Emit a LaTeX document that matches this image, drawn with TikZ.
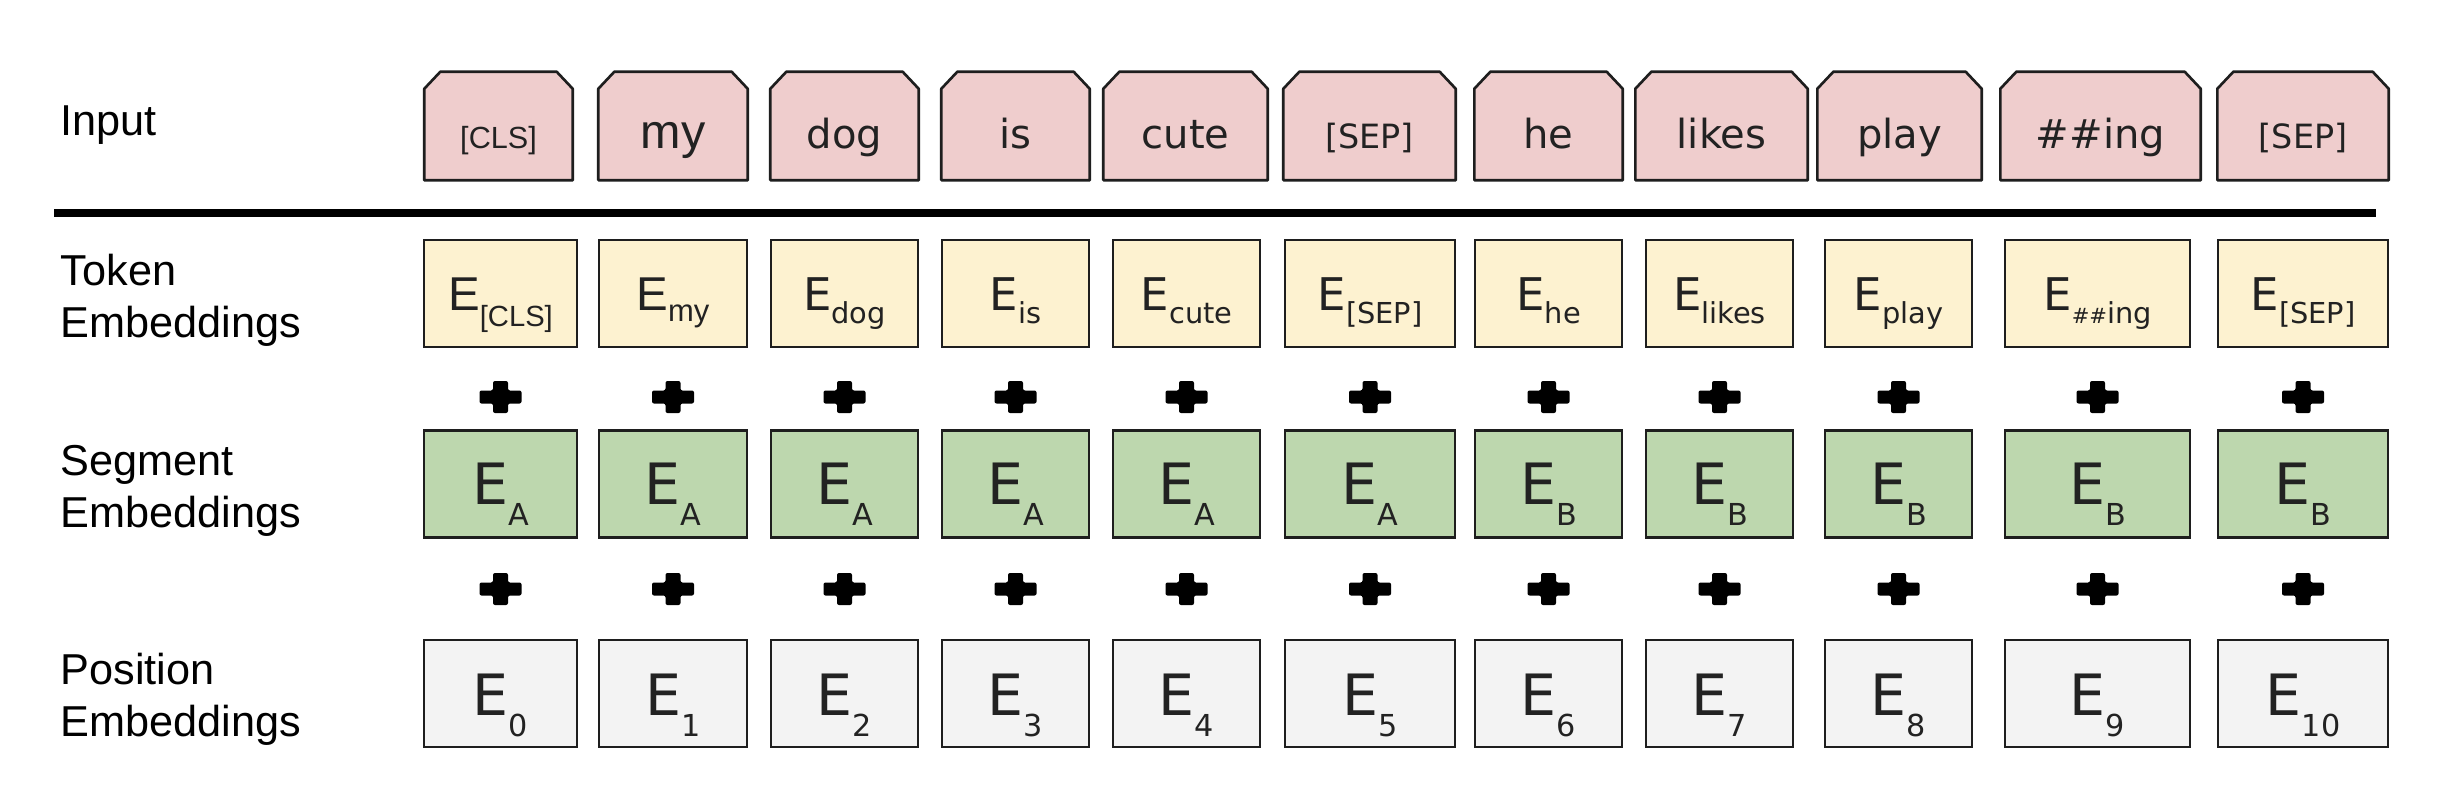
\documentclass[tikz,border=0pt]{standalone}
\usepackage{fontspec}
\setmainfont{Liberation Sans}
\newfontfamily\dvfont{DejaVu Sans}
\newfontfamily\arfont{Liberation Sans}
\usetikzlibrary{calc}
\definecolor{inpink}{RGB}{239,205,205}
\definecolor{tokyel}{RGB}{253,242,208}
\definecolor{seggrn}{RGB}{189,215,174}
\definecolor{posgry}{RGB}{243,243,243}
\definecolor{edgec}{RGB}{30,30,30}
\definecolor{ink}{RGB}{34,34,34}

\newcommand\Eb[5]{{#1\fontsize{#2}{#2}\selectfont E\raisebox{-#4}{\fontsize{#3}{#3}\selectfont #5}}}
\newcommand\tokD[1]{\Eb{\dvfont}{12.8}{8.2}{3.7pt}{#1}}
\newcommand\segE[1]{\Eb{\dvfont}{16.2}{8.6}{6.2pt}{#1}}
\newcommand\inD[1]{{\dvfont\fontsize{11.4}{12}\selectfont #1}}

\tikzset{
  cellbox/.style={rectangle, inner sep=0pt, minimum height=1.07cm},
  boxline/.style={draw=edgec, line width=0.75pt},
  inshape/.style={draw=edgec, fill=inpink, line width=0.75pt, line join=round},
  txt/.style={anchor=base, inner sep=0pt, text=ink},
  lab/.style={inner sep=0pt, align=left, text=black, font=\arfont\fontsize{12.3}{14.8}\selectfont},
  plussign/.pic={\fill[black, rounded corners=0.02cm] (-7.5,-16) -- (7.5,-16) -- (7.5,-6.5) -- (21,-6.5) -- (21,6.5) -- (7.5,6.5) -- (7.5,16) -- (-7.5,16) -- (-7.5,6.5) -- (-21,6.5) -- (-21,-6.5) -- (-7.5,-6.5) -- cycle;}
}

\newcommand\mkcol[8]{%
  \pgfmathsetmacro\colcx{(#2+#3)/2}%
  \pgfmathsetmacro\colwid{#3-#2}%
  \pgfmathsetmacro\incx{(#4+#5)/2}%
  \pgfmathsetmacro\inwid{#5-#4}%
  \node[cellbox, minimum width=\inwid*0.01cm] (in#1) at (\incx,126) {};
  \draw[inshape] (in#1.south west) -- ($(in#1.north west)+(0,17)$) -- ($(in#1.north west)+(16,0)$) -- ($(in#1.north east)+(-16,0)$) -- ($(in#1.north east)+(0,17)$) -- (in#1.south east) -- cycle;
  \node[txt] (inT#1) at (\incx,148) {#6};
  \node[cellbox, boxline, fill=tokyel, minimum width=\colwid*0.01cm] (tok#1) at (\colcx,293.5) {};
  \node[txt] (tokT#1) at (\colcx,310) {#7};
  \pic (plusA#1) at (\colcx,397) {plussign};
  \node[cellbox, boxline, fill=seggrn, minimum width=\colwid*0.01cm] (seg#1) at (\colcx,484) {};
  \node[txt] (segT#1) at (\colcx,504) {\segE{#8}};
  \pic (plusB#1) at (\colcx,589) {plussign};
  \node[cellbox, boxline, fill=posgry, minimum width=\colwid*0.01cm] (pos#1) at (\colcx,693.5) {};
  \node[txt] (posT#1) at (\colcx,715) {\segE{#1}};
}

\begin{document}
\begin{tikzpicture}[x=0.01cm, y=-0.01cm]
\fill[white] (0,0) rectangle (2446,806);
\useasboundingbox (0,0) rectangle (2446,806);

\node[lab, anchor=base west] (labIn) at (60,135) {Input};
\node[lab, anchor=north west] (labTok) at (60,253) {Token\\Embeddings};
\node[lab, anchor=north west] (labSeg) at (60,445) {Segment\\Embeddings};
\node[lab, anchor=north west] (labPos) at (60,652) {Position\\Embeddings};

\coordinate (ruleL) at (54,213);
\coordinate (ruleR) at (2376,213);
\draw[line width=0.08cm] (ruleL) -- (ruleR);

\mkcol{0}{424}{577}{425}{572}{{\arfont\fontsize{8.7}{10}\selectfont [CLS]}}{\Eb{\arfont}{13.5}{8.3}{4.6pt}{[CLS]}}{A}
\mkcol{1}{599}{747}{599}{747}{{\arfont\fontsize{13.8}{15}\selectfont my}}{\Eb{\arfont}{13.5}{8.8}{3.4pt}{my}}{A}
\mkcol{2}{771}{918}{771}{918}{\inD{dog}}{\tokD{dog}}{A}
\mkcol{3}{942}{1089}{942}{1089}{\inD{is}}{\tokD{is}}{A}
\mkcol{4}{1113}{1260}{1104}{1267}{\inD{cute}}{\tokD{cute}}{A}
\mkcol{5}{1285}{1455}{1284}{1455}{{\dvfont\fontsize{9.5}{10}\selectfont [SEP]}}{\tokD{[SEP]}}{A}
\mkcol{6}{1475}{1622}{1475}{1622}{\inD{he}}{\tokD{he}}{B}
\mkcol{7}{1646}{1793}{1636}{1807}{\inD{likes}}{\tokD{likes}}{B}
\mkcol{8}{1825}{1972}{1818}{1981}{\inD{play}}{\tokD{play}}{B}
\mkcol{9}{2005}{2190}{2001}{2200}{\inD{\#\#ing}}{\tokD{{\fontsize{6}{6}\selectfont\#\#}ing}}{B}
\mkcol{10}{2218}{2388}{2218}{2388}{{\dvfont\fontsize{9.5}{10}\selectfont [SEP]}}{\tokD{[SEP]}}{B}
\end{tikzpicture}
\end{document}
